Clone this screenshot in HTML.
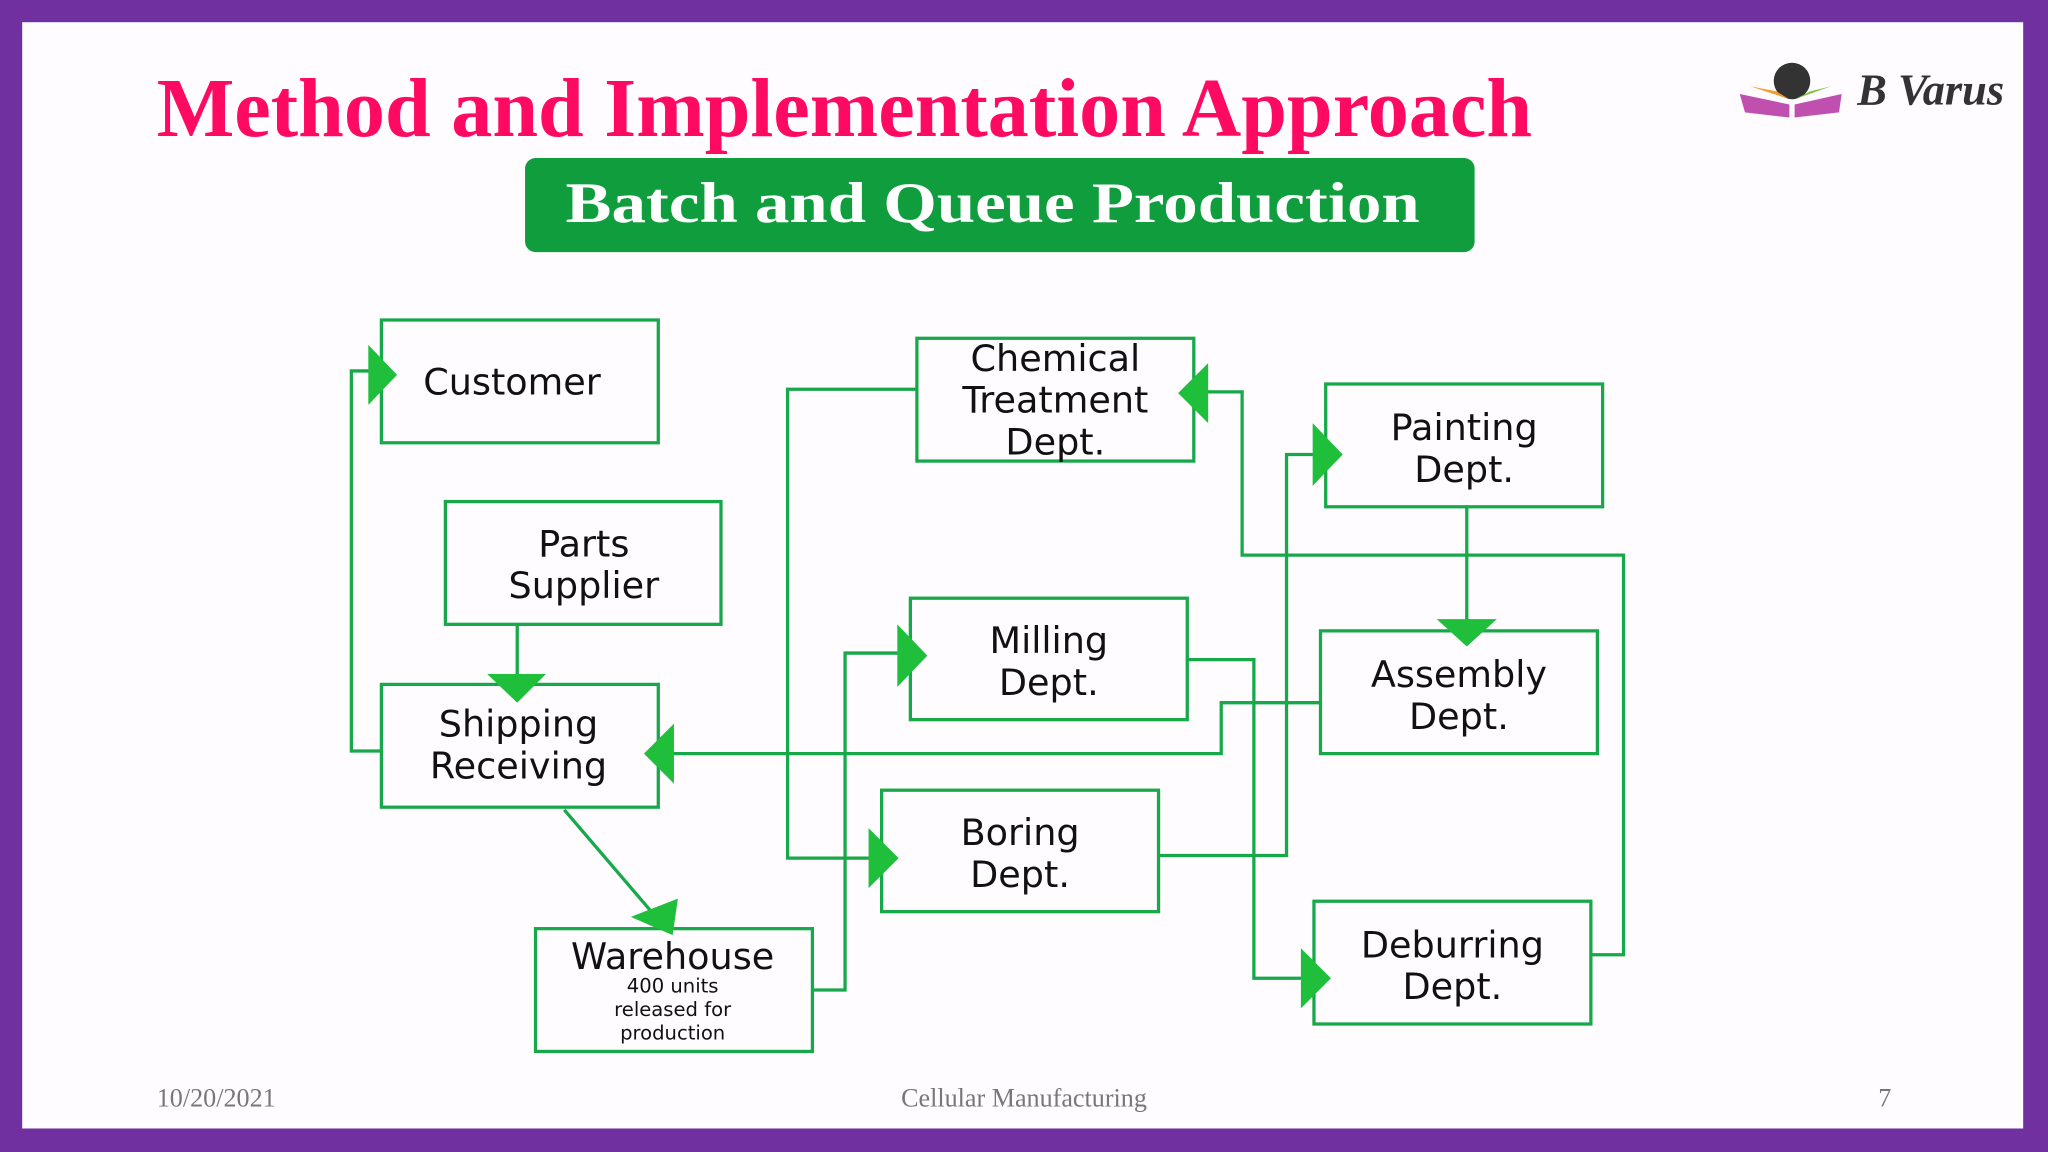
<!DOCTYPE html>
<html><head><meta charset="utf-8"><style>
html,body{margin:0;padding:0;background:#fff;}
svg{display:block;}
</style></head><body>
<svg width="2048" height="1152" viewBox="0 0 1568 882" xmlns="http://www.w3.org/2000/svg">
<rect x="0" y="0" width="1568" height="882" fill="#7030a0"/>
<rect x="17" y="17" width="1532" height="847" fill="#fefcff"/>
<text x="120" y="104" font-family="Liberation Serif, serif" font-weight="bold" font-size="64" fill="#fe0a62" textLength="1053" lengthAdjust="spacingAndGlyphs">Method and Implementation Approach</text>
<g>
<circle cx="1372" cy="62" r="14" fill="#333"/>
<path d="M1332 72 L1370 80 L1370 90 L1336 86 Z" fill="#c050b0"/>
<path d="M1410 72 L1374 80 L1374 90 L1408 86 Z" fill="#c050b0"/>
<path d="M1340 66 L1370 76 L1360 70 Z" fill="#f59a2a"/>
<path d="M1402 66 L1374 76 L1386 70 Z" fill="#7bbf3a"/>
<text x="1422" y="80" font-family="Liberation Serif, serif" font-style="italic" font-weight="bold" font-size="34" fill="#333">B Varus</text>
</g>
<rect x="402" y="121" width="727" height="72" rx="8" fill="#0f9d3d"/>
<text x="433" y="170" font-family="Liberation Serif, serif" font-weight="bold" font-size="44" fill="#fff" textLength="654" lengthAdjust="spacingAndGlyphs">Batch and Queue Production</text>

<g fill="none" stroke="#17a84a" stroke-width="2.5">
<rect x="292" y="245" width="212" height="94"/>
<rect x="341" y="384" width="211" height="94"/>
<rect x="292" y="524" width="212" height="94"/>
<rect x="410" y="711" width="212" height="94"/>
<rect x="702" y="259" width="212" height="94"/>
<rect x="697" y="458" width="212" height="93"/>
<rect x="675" y="605" width="212" height="93"/>
<rect x="1015" y="294" width="212" height="94"/>
<rect x="1011" y="483" width="212" height="94"/>
<rect x="1006" y="690" width="212" height="94"/>
<polyline points="292,575 269,575 269,284 290,284"/>
<polyline points="396,478 396,520"/>
<polyline points="432,620 503,703"/>
<polyline points="622,758 647,758 647,500 695,500"/>
<polyline points="702,298 603,298 603,657 673,657"/>
<polyline points="909,505 960,505 960,749 1004,749"/>
<polyline points="887,655 985,655 985,348 1013,348"/>
<polyline points="1123,388 1123,481"/>
<polyline points="1218,731 1243,731 1243,425 951,425 951,300 916,300"/>
<polyline points="1011,538 935,538 935,577 506,577"/>
</g>
<g fill="#1fbf3c">
<polygon points="282,264 304,287 282,310"/>
<polygon points="373,516 418,516 396,538"/>
<polygon points="483,702 519,688 515,716"/>
<polygon points="687,478 710,502 687,526"/>
<polygon points="665,634 688,657 665,680"/>
<polygon points="996,726 1019,749 996,772"/>
<polygon points="1005,324 1028,348 1005,372"/>
<polygon points="1100,474 1146,474 1123,495"/>
<polygon points="925,278 902,301 925,324"/>
<polygon points="516,554 493,577 516,600"/>
</g>
<g font-family="DejaVu Sans, sans-serif" font-size="28" fill="#111" text-anchor="middle">
<text x="392" y="302">Customer</text>
<text x="447" y="426">Parts</text><text x="447" y="458">Supplier</text>
<text x="397" y="564">Shipping</text><text x="397" y="596">Receiving</text>
<text x="515" y="742">Warehouse</text>
<text x="808" y="284">Chemical</text><text x="808" y="316">Treatment</text><text x="808" y="348">Dept.</text>
<text x="803" y="500">Milling</text><text x="803" y="532">Dept.</text>
<text x="781" y="647">Boring</text><text x="781" y="679">Dept.</text>
<text x="1121" y="337">Painting</text><text x="1121" y="369">Dept.</text>
<text x="1117" y="526">Assembly</text><text x="1117" y="558">Dept.</text>
<text x="1112" y="733">Deburring</text><text x="1112" y="765">Dept.</text>
</g>
<g font-family="DejaVu Sans, sans-serif" font-size="15" fill="#111" text-anchor="middle">
<text x="515" y="760">400 units</text>
<text x="515" y="778">released for</text>
<text x="515" y="796">production</text>
</g>
<g font-family="Liberation Serif, serif" font-size="20" fill="#777">
<text x="120" y="847">10/20/2021</text>
<text x="784" y="847" text-anchor="middle">Cellular Manufacturing</text>
<text x="1443" y="847" text-anchor="middle">7</text>
</g>
</svg>
</body></html>
